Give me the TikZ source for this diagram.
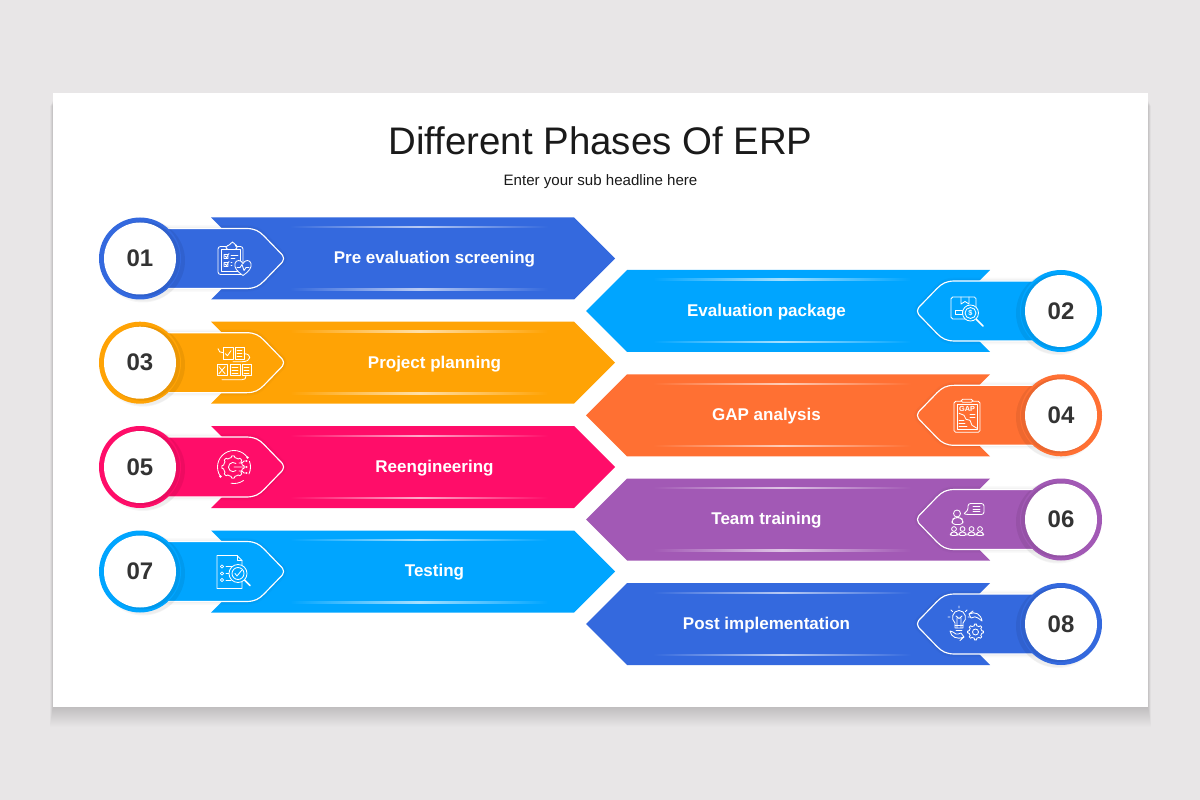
\documentclass[tikz,border=0pt]{standalone}
\usepackage{fontspec}
\setmainfont{Liberation Sans}
\definecolor{pagebg}{HTML}{E8E6E7}
\definecolor{cblue}{HTML}{3469DE}
\definecolor{ccyan}{HTML}{00A5FF}
\definecolor{camber}{HTML}{FFA305}
\definecolor{ccoral}{HTML}{FF7033}
\definecolor{cpink}{HTML}{FF0D69}
\definecolor{cpurple}{HTML}{A259B5}
\definecolor{numink}{HTML}{333333}
\definecolor{titleink}{HTML}{1A1A1A}
\tikzset{
  ic/.style={draw=white,line width=0.5pt,line join=round,line cap=round},
  icf/.style={ic,fill=rowc},
  icontext/.style={text=white,inner sep=0pt,font=\bfseries\fontsize{4.4}{5}\selectfont},
  titletext/.style={text=titleink,inner sep=0pt,font=\fontsize{23.05}{28}\selectfont},
  subtext/.style={text=titleink,inner sep=0pt,font=\fontsize{9.05}{11}\selectfont},
  labeltext/.style={text=white,inner sep=0pt,font=\bfseries\fontsize{10.2}{13}\selectfont},
  numtext/.style={circle,fill=white,text=numink,inner sep=0pt,minimum size=43.2pt,font=\bfseries\fontsize{14.4}{17}\selectfont},
}
% ---------- icons (drawn round 0,0 in px, y downward)
\newcommand{\gearline}[3]{\begin{scope}[shift={#1}]\draw[icf] plot[domain=0:360,samples=97] (\x:{#2+1.6*(cos(#3*\x)>0)}) -- cycle;\end{scope}}
\newcommand{\iconA}{%
  \draw[ic,rounded corners=1.5pt] (-16,-12) rectangle (9,16);
  \draw[ic] (-13,-9) -- (-13,13) -- (6,13) -- (6,-9) -- cycle;
  \draw[icf,rounded corners=1pt] (-8,-9) -- (-8,-13) -- (-4,-13) -- (-3,-16.5) -- (0,-16.5) -- (1,-13) -- (3,-13) -- (3,-9) -- cycle;
  \draw[ic] (-10,-4) rectangle (-6,0) (-9,-2.5) -- (-7.5,-1) -- (-5,-5);
  \draw[ic] (-3,-3) -- (4,-3) (-3,0) -- (1,0);
  \draw[ic] (-10,4) rectangle (-6,8) (-9,5.5) -- (-7.5,7) -- (-5,3);
  \draw[ic] (-3,4) -- (-2,4) (-3,7) -- (-2,7);
  \draw[icf] (9,17) .. controls (3,13) and (0,9) .. (1,5) .. controls (2,1) and (7,1) .. (9,5) .. controls (11,1) and (16,1) .. (17,5) .. controls (18,9) and (15,13) .. (9,17) -- cycle;
  \draw[ic] (3,9) -- (6,9) -- (8,6) -- (10,12) -- (12,9) -- (15,9);
}
\newcommand{\iconB}{%
  \draw[ic,rounded corners=1pt] (-16,-14) rectangle (9,8);
  \draw[ic] (-6,-14) -- (-6,-7) -- (-2,-9.5) -- (2,-7) -- (2,-14);
  \draw[ic] (-12,-1) rectangle (-5,3);
  \draw[ic,line width=0.9pt] (9.5,8.5) -- (16,15);
  \draw[icf] (3.5,2) circle[radius=8];
  \draw[ic] (3.5,2) circle[radius=5.5];
  \node[icontext] (dollar) at (3.5,2) {\$};
}
\newcommand{\iconC}{%
  \draw[ic] (-11,-15) rectangle (-1,-3) (1,-15) rectangle (10,-3);
  \draw[ic] (-8.5,-9) -- (-6.5,-7) -- (-3,-12);
  \draw[ic] (3,-12) -- (8,-12) (3,-9) -- (8,-9) (3,-6) -- (8,-6);
  \draw[ic] (-16,-14) .. controls (-15,-11) and (-14,-10) .. (-11,-10);
  \draw[ic] (10,-9) .. controls (18,-9) and (18,-1) .. (8,-1) -- (-1,-1);
  \draw[ic] (-17,2) rectangle (-7,13) (-4,2) rectangle (6,13) (8,2) rectangle (17,13);
  \draw[ic] (-15,4) -- (-9,11) (-9,4) -- (-15,11);
  \draw[ic] (-2,5) -- (4,5) (-2,8) -- (4,8) (-2,11) -- (4,11);
  \draw[ic] (10,5) -- (15,5) (10,8) -- (15,8) (10,11) -- (15,11);
  \draw[ic] (-12,17) -- (8,17) .. controls (11,17) and (12,16) .. (12,13);
}
\newcommand{\iconD}{%
  \draw[ic,rounded corners=1pt] (-13,-14) rectangle (13,17);
  \draw[ic] (-10,-11) rectangle (10,14);
  \draw[icf,rounded corners=1pt] (-6,-13) rectangle (6,-16);
  \node[icontext] (gaptext) at (0,-6) {GAP};
  \draw[ic] (3,-1) -- (8,-1) (3,2) -- (8,2);
  \draw[ic] (-8,-2) -- (-3,0) -- (-1,4) -- (3,5) -- (5,10) -- (10,13);
  \draw[ic] (-8,5) -- (-3,5) (-8,8) -- (-2,8) (-8,11) -- (0,11);
}
\newcommand{\iconE}{%
  \draw[ic] (0,0) ++(-35:16.5) arc[start angle=-35,end angle=-215,radius=16.5];
  \draw[ic] (0,0) ++(-20:16.5) arc[start angle=-20,end angle=25,radius=16.5];
  \draw[ic] (0,0) ++(55:16.5) arc[start angle=55,end angle=100,radius=16.5];
  \fill[white] (-35:16.5) circle[radius=1.3] (-215:16.5) circle[radius=1.3];
  \gearline{(-1,0)}{9.5}{8}
  \draw[ic] (2,-3.5) arc[start angle=-50,end angle=-310,radius=4.6];
  \draw[ic] (0,0) -- (12,0) (5,-4) -- (8,-4) -- (10,-6) -- (12,-6) (5,4) -- (8,4) -- (10,6) -- (12,6);
  \fill[white] (12.5,0) circle[radius=1] (12.5,-6) circle[radius=1] (12.5,6) circle[radius=1];
}
\newcommand{\smallperson}[1]{%
  \draw[ic] (#1,9.5) circle[radius=2.4];
  \draw[ic,rounded corners=1pt] (#1-3.6,16) -- (#1-3.6,14) -- (#1-1.5,12.4) -- (#1+1.5,12.4) -- (#1+3.6,14) -- (#1+3.6,16) -- cycle;
}
\newcommand{\iconF}{%
  \draw[ic,rounded corners=1.5pt] (1,-16) -- (17,-16) -- (17,-5) -- (1,-5) -- (-4,-5.5) -- (1,-9) -- cycle;
  \draw[ic] (6,-13) -- (13,-13) (6,-10.5) -- (13,-10.5) (6,-8) -- (13,-8);
  \draw[ic] (-10,-6) circle[radius=3.5];
  \draw[ic,rounded corners=2pt] (-15,5) -- (-15,0) -- (-11.5,-2) -- (-7.5,-2) -- (-4,0) -- (-4,5) -- cycle;
  \smallperson{-13}\smallperson{-4.5}\smallperson{4.5}\smallperson{13}
}
\newcommand{\iconG}{%
  \draw[ic] (-17,-16) -- (3,-16) -- (8,-11) -- (8,17) -- (-17,17) -- cycle;
  \draw[ic] (3,-16) -- (3,-11) -- (8,-11);
  \draw[ic] (-12,-5) circle[radius=1.6] (-12,2) circle[radius=1.6] (-12,8.5) circle[radius=1.6];
  \draw[ic] (-8,-5) -- (2,-5) (-8,2) -- (-4,2) (-8,8.5) -- (-3,8.5);
  \draw[ic,line width=0.9pt] (10.5,8.5) -- (16,14);
  \draw[icf] (4,2) circle[radius=9];
  \draw[ic] (4,2) circle[radius=6];
  \draw[ic] (1,2) -- (3,4.5) -- (7.5,-1);
}
\newcommand{\iconH}{%
  \draw[ic] (-12,-1) .. controls (-17,-5) and (-14,-13.5) .. (-8,-13.5) .. controls (-2,-13.5) and (1,-5) .. (-4,-1) -- (-4,4) -- (-12,4) -- cycle;
  \draw[ic] (-12,1.5) -- (-4,1.5) (-11,6.5) -- (-5,6.5) (-10,4) -- (-10,-6) (-6,4) -- (-6,-6) (-11,-8) -- (-8,-5.5) -- (-5,-8);
  \draw[ic] (-16,-14) -- (-14.5,-12.5) (-8,-18) -- (-8,-16) (0,-14) -- (-1.5,-12.5) (-19,-7) -- (-17,-7) (3,-7) -- (1,-7);
  \draw[ic] (2,-10) .. controls (8,-13) and (14,-10) .. (15,-3) -- (11,-6) .. controls (9,-8) and (7,-7) .. (4,-6) (2,-10) -- (6,-13) (4,-6) -- (2,-10);
  \draw[ic] (-17,7) .. controls (-16,13) and (-10,16) .. (-3,13) (-3,13) -- (-7,16.5) (-3,13) -- (-6,9) .. controls (-10,11) and (-13,10) .. (-14,8) -- (-17,7);
  \gearline{(8.5,8)}{6.3}{8}
  \draw[ic] (8.5,8) circle[radius=3];
}
% ---------- one row: #1 id, #2 mirror (1 or -1), #3 origin x, #4 centre y, #5 colour, #6 label, #7 icon
\newcommand{\tagpath}{(160,-30) -- (246,-30) .. controls (255,-30) and (259,-27.5) .. (264,-22.5) -- (279.5,-6.5) .. controls (285,-1.5) and (285,1.5) .. (279.5,6.5) -- (264,22.5) .. controls (259,27.5) and (255,30) .. (246,30) -- (160,30)}
\newcommand{\phaserow}[7]{%
  \colorlet{rowc}{#5}
  \colorlet{rowhi}{white!65!#5}
  \begin{scope}[shift={(#3,#4)},xscale=#2]
    \fill[rowc] (211,-41) -- (574,-41) -- (615,0) -- (574,41) -- (211,41) -- (222,30) -- (222,-30) -- cycle;
    \shade[left color=rowc,right color=rowc,middle color=rowhi] (290,-32) rectangle (548,-30.6);
    \shade[left color=rowc,right color=rowc,middle color=rowhi] (290,30.2) rectangle (548,31.6);
    \foreach \w in {4,2.5,1.5}{\draw[black,opacity=0.018,line width=\w pt] \tagpath;}
    \fill[rowc] \tagpath -- cycle;
    \draw[white,line width=0.7pt] \tagpath;
    \fill[black,opacity=0.035] (143,2) circle[radius=42];
    \fill[black,opacity=0.03] (144,2) circle[radius=41];
    \fill[rowc] (140,0) circle[radius=41];
    \fill[black,opacity=0.08] (142.5,0.5) circle[radius=37.5];
    \node[numtext] (num#1) at (140,0) {#1};
    \node[labeltext] (lab#1) at (434.5,1) {#6};
    \begin{scope}[shift={(234,0)},xscale=#2]
      #7
    \end{scope}
  \end{scope}
}
\begin{document}
\begin{tikzpicture}[x=0.6pt,y=-0.6pt]
  \useasboundingbox (0,0) rectangle (1200,800);
  \fill[pagebg] (0,0) rectangle (1200,800);
  \foreach \i in {1,...,20}{\fill[black,opacity=0.0075] ({53-\i*0.15},{100+\i*0.3}) rectangle ({1148+\i*0.15},{707+\i*1.0});}
  \fill[white] (53,93) rectangle (1148,707);
  \node[titletext] (title) at (600.5,141) {Different Phases Of ERP};
  \node[subtext] (subtitle) at (600.5,182) {Enter your sub headline here};
  \phaserow{01}{1}{0}{258.5}{cblue}{Pre evaluation screening}{\iconA}
  \phaserow{03}{1}{0}{362.7}{camber}{Project planning}{\iconC}
  \phaserow{05}{1}{0}{467}{cpink}{Reengineering}{\iconE}
  \phaserow{07}{1}{0}{571.5}{ccyan}{Testing}{\iconG}
  \phaserow{02}{-1}{1201}{311}{ccyan}{Evaluation package}{\iconB}
  \phaserow{04}{-1}{1201}{415.3}{ccoral}{GAP analysis}{\iconD}
  \phaserow{06}{-1}{1201}{519.5}{cpurple}{Team training}{\iconF}
  \phaserow{08}{-1}{1201}{624}{cblue}{Post implementation}{\iconH}
\end{tikzpicture}
\end{document}
